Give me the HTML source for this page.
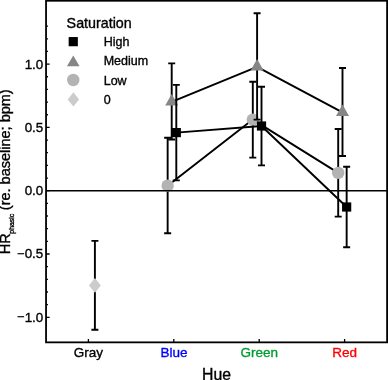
<!DOCTYPE html>
<html><head><meta charset="utf-8"><title>Hue</title>
<style>html,body{margin:0;padding:0;background:#fff;}svg{display:block;}text{font-family:"Liberation Sans",Arial,Helvetica,sans-serif;fill:#000;stroke:#000;stroke-width:0.35px;}</style></head><body>
<svg width="388" height="380" viewBox="0 0 388 380">
<rect x="0" y="0" width="388" height="380" fill="#fff"/>
<defs><filter id="soft" x="-5%" y="-5%" width="110%" height="110%" color-interpolation-filters="sRGB"><feGaussianBlur stdDeviation="0.32"/></filter></defs>
<g filter="url(#soft)">
<g>
<path d="M94.90 240.90V329.80M91.40 240.90H98.40M91.40 329.80H98.40" fill="none" stroke="#000" stroke-width="1.9"/>
<polygon points="94.90,278.00 100.85,285.40 94.90,292.80 88.95,285.40" fill="#cccccc"/>
<path d="M167.65 137.80V233.30M164.15 137.80H171.15M164.15 233.30H171.15M252.80 81.80V157.60M249.30 81.80H256.30M249.30 157.60H256.30M338.20 129.00V216.60M334.70 129.00H341.70M334.70 216.60H341.70" fill="none" stroke="#000" stroke-width="1.9"/>
<polyline points="167.65,185.70 252.80,119.60 338.20,172.90" fill="none" stroke="#000" stroke-width="1.9" stroke-linejoin="round"/>
<circle cx="167.65" cy="185.70" r="6.2" fill="#b3b3b3"/>
<circle cx="252.80" cy="119.60" r="6.2" fill="#b3b3b3"/>
<circle cx="338.20" cy="172.90" r="6.2" fill="#b3b3b3"/>
<path d="M171.70 63.40V139.50M168.20 63.40H175.20M168.20 139.50H175.20M257.10 13.30V119.60M253.60 13.30H260.60M253.60 119.60H260.60M342.50 68.00V156.00M339.00 68.00H346.00M339.00 156.00H346.00" fill="none" stroke="#000" stroke-width="1.9"/>
<polyline points="171.70,101.80 257.10,66.80 342.50,112.40" fill="none" stroke="#000" stroke-width="1.9" stroke-linejoin="round"/>
<polygon points="171.70,93.88 178.20,105.38 165.20,105.38" fill="#868686"/>
<polygon points="257.10,58.88 263.60,70.38 250.60,70.38" fill="#868686"/>
<polygon points="342.50,104.48 349.00,115.98 336.00,115.98" fill="#868686"/>
<path d="M176.30 84.90V180.40M172.80 84.90H179.80M172.80 180.40H179.80M261.50 86.80V165.40M258.00 86.80H265.00M258.00 165.40H265.00M346.65 166.70V247.20M343.15 166.70H350.15M343.15 247.20H350.15" fill="none" stroke="#000" stroke-width="1.9"/>
<polyline points="176.30,132.60 261.50,126.00 346.65,207.00" fill="none" stroke="#000" stroke-width="1.9" stroke-linejoin="round"/>
<rect x="171.70" y="128.00" width="9.20" height="9.20" fill="#000"/>
<rect x="256.90" y="121.40" width="9.20" height="9.20" fill="#000"/>
<rect x="342.05" y="202.40" width="9.20" height="9.20" fill="#000"/>
</g>
<line x1="46.05" y1="190.75" x2="387.1" y2="190.75" stroke="#000" stroke-width="1.45"/>
<path d="M46.05 317.30h3.6M46.05 304.64h1.9M46.05 291.98h1.9M46.05 279.32h1.9M46.05 266.66h1.9M46.05 254.00h3.6M46.05 241.34h1.9M46.05 228.68h1.9M46.05 216.02h1.9M46.05 203.36h1.9M46.05 190.70h3.6M46.05 178.04h1.9M46.05 165.38h1.9M46.05 152.72h1.9M46.05 140.06h1.9M46.05 127.40h3.6M46.05 114.74h1.9M46.05 102.08h1.9M46.05 89.42h1.9M46.05 76.76h1.9M46.05 64.10h3.6M46.05 51.44h1.9M46.05 38.78h1.9M46.05 26.12h1.9M88.40 342.35v-3.4M173.80 342.35v-3.4M259.20 342.35v-3.4M344.60 342.35v-3.4" fill="none" stroke="#000" stroke-width="1.3"/>
<rect x="46.05" y="0.75" width="341.05" height="341.60" fill="none" stroke="#000" stroke-width="1.8"/>
<text x="43.3" y="68.55" font-size="13.4" text-anchor="end">1.0</text>
<text x="43.3" y="131.85" font-size="13.4" text-anchor="end">0.5</text>
<text x="43.3" y="195.15" font-size="13.4" text-anchor="end">0.0</text>
<text x="43.3" y="258.45" font-size="13.4" text-anchor="end">0.5</text>
<text x="24.3" y="258.15" font-size="12.5" text-anchor="end">−</text>
<text x="43.3" y="321.75" font-size="13.4" text-anchor="end">1.0</text>
<text x="24.3" y="321.45" font-size="12.5" text-anchor="end">−</text>
<text x="88.50" y="357.4" font-size="13.5" text-anchor="middle" style="fill:#000;stroke:#000">Gray</text>
<text x="173.90" y="357.4" font-size="13.5" text-anchor="middle" style="fill:#0000ff;stroke:#0000ff">Blue</text>
<text x="259.30" y="357.4" font-size="13.5" text-anchor="middle" style="fill:#009d32;stroke:#009d32">Green</text>
<text x="344.70" y="357.4" font-size="13.5" text-anchor="middle" style="fill:#ff0000;stroke:#ff0000">Red</text>
<text x="216.6" y="379.7" font-size="15.8" text-anchor="middle">Hue</text>
<text transform="translate(10.3,254.2) rotate(-90)" font-size="14.5">HR</text>
<text transform="translate(13.8,233.7) rotate(-90)" font-size="6.9">phasic</text>
<text transform="translate(10.3,210.2) rotate(-90)" font-size="14.5">(re. baseline; bpm)</text>
<text x="66.6" y="27.9" font-size="14.3">Saturation</text>
<rect x="68.65" y="37.05" width="9.20" height="9.20" fill="#000"/>
<polygon points="73.25,55.38 79.55,66.28 66.95,66.28" fill="#868686"/>
<circle cx="73.25" cy="80.00" r="6.2" fill="#b3b3b3"/>
<polygon points="73.40,92.20 79.10,99.40 73.40,106.60 67.70,99.40" fill="#cccccc"/>
<text x="103.7" y="46.15" font-size="12.5">High</text>
<text x="103.7" y="65.35" font-size="12.5">Medium</text>
<text x="103.7" y="84.50" font-size="12.5">Low</text>
<text x="103.7" y="103.90" font-size="12.5">0</text>
</g>
</svg></body></html>
